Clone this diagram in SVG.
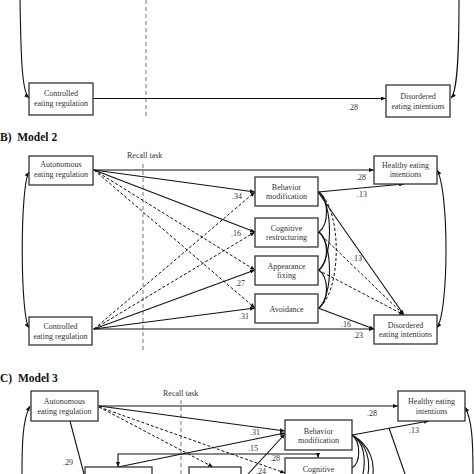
<svg xmlns="http://www.w3.org/2000/svg" width="474" height="474" viewBox="0 0 474 474">
<style>
.box{fill:#fff;stroke:#333;stroke-width:1.3}
.t{font-family:"Liberation Serif","Times New Roman",serif;font-size:8px;fill:#333;text-anchor:middle}
.lb{font-family:"Liberation Serif","Times New Roman",serif;font-size:8px;fill:#333}
.title{font-family:"Liberation Serif","Times New Roman",serif;font-size:11.5px;font-weight:bold;fill:#111}
.ln{fill:none;stroke:#111;stroke-width:1.1}
.ds{fill:none;stroke:#111;stroke-width:1;stroke-dasharray:3,2}
.rc{fill:none;stroke:#777;stroke-width:1;stroke-dasharray:4,3}
</style>
<defs>
<marker id="ah" markerUnits="userSpaceOnUse" markerWidth="5" markerHeight="4" refX="5" refY="2" orient="auto-start-reverse">
<path d="M0,0 L5,2 L0,4 z" fill="#111"/>
</marker>
</defs>
<rect width="474" height="474" fill="#fff"/>

<g id="connectors">
<!-- Model 1 -->
<line class="rc" x1="146" y1="0" x2="146" y2="118"/>
<path class="ln" d="M20,0 C21,60 22,92 29,98" marker-end="url(#ah)"/>
<path class="ln" d="M459,0 C459,60 457,92 451,98" marker-end="url(#ah)"/>
<line class="ln" x1="93" y1="98.5" x2="386" y2="98.5" marker-end="url(#ah)"/>

<!-- Model 2 -->
<line class="rc" x1="143" y1="164" x2="143" y2="350"/>
<line class="ln" x1="93" y1="170" x2="374" y2="170" marker-end="url(#ah)"/>
<line class="ln" x1="94" y1="170" x2="255" y2="192" marker-end="url(#ah)"/>
<line class="ln" x1="94" y1="170" x2="255" y2="232" marker-end="url(#ah)"/>
<line class="ds" x1="94" y1="170" x2="255" y2="270" marker-end="url(#ah)"/>
<line class="ds" x1="94" y1="170" x2="255" y2="308" marker-end="url(#ah)"/>
<line class="ds" x1="94" y1="329" x2="255" y2="192" marker-end="url(#ah)"/>
<line class="ds" x1="94" y1="329" x2="255" y2="232" marker-end="url(#ah)"/>
<line class="ln" x1="94" y1="329" x2="255" y2="270" marker-end="url(#ah)"/>
<line class="ln" x1="94" y1="329" x2="255" y2="308" marker-end="url(#ah)"/>
<line class="ln" x1="93" y1="329" x2="374" y2="329" marker-end="url(#ah)"/>
<line class="ln" x1="318" y1="192" x2="404" y2="184" marker-end="url(#ah)"/>
<line class="ln" x1="318" y1="192" x2="404" y2="315" marker-end="url(#ah)"/>
<line class="ds" x1="318" y1="232" x2="404" y2="315" marker-end="url(#ah)"/>
<line class="ds" x1="318" y1="270" x2="404" y2="315" marker-end="url(#ah)"/>
<line class="ln" x1="318" y1="308" x2="374" y2="329" marker-end="url(#ah)"/>
<path class="ln" d="M319,192 C329,200 329,224 319,232"/>
<path class="ln" d="M319,232 C329,240 329,262 319,270"/>
<path class="ln" d="M319,270 C329,278 329,300 319,308"/>
<path class="ln" d="M319,192 C333,205 333,257 319,270"/>
<path class="ln" d="M319,232 C333,245 333,295 319,308"/>
<path class="ds" d="M319,192 C342,210 342,290 319,308"/>
<path class="ln" d="M29,172 C20,185 20,315 29,328" marker-start="url(#ah)" marker-end="url(#ah)"/>
<path class="ln" d="M437,170 C449,190 449,310 437,328" marker-start="url(#ah)" marker-end="url(#ah)"/>

<!-- Model 3 -->
<line class="rc" x1="181" y1="400" x2="181" y2="474"/>
<line class="ln" x1="98" y1="406" x2="398" y2="406" marker-end="url(#ah)"/>
<line class="ln" x1="99" y1="406" x2="285" y2="431" marker-end="url(#ah)"/>
<line class="ds" x1="99" y1="407" x2="213" y2="467" marker-end="url(#ah)"/>
<line class="ds" x1="99" y1="407" x2="285" y2="473" marker-end="url(#ah)"/>
<line class="ln" x1="118" y1="467" x2="285" y2="433" marker-end="url(#ah)"/>
<line class="ln" x1="248" y1="474" x2="285" y2="434" marker-end="url(#ah)"/>
<path class="ln" d="M118,467 L118,454 L318,454 L318,458" marker-start="url(#ah)" marker-end="url(#ah)"/>
<line class="ln" x1="70" y1="421" x2="84" y2="474"/>
<line class="ln" x1="352" y1="435" x2="429" y2="421" marker-end="url(#ah)"/>
<line class="ln" x1="389" y1="428" x2="405" y2="474"/>
<path class="ln" d="M465,407 C472,420 473,440 473,474" marker-start="url(#ah)"/>
<path class="ln" d="M30,406 C22,420 22,450 22,474" marker-start="url(#ah)"/>
<path class="ln" d="M352,435 C361,442 361,462 352,468"/>
<path class="ln" d="M352,435 C364,442 366,458 363,474"/>
<path class="ln" d="M352,435 C368,444 370,462 368,474"/>
<path class="ln" d="M352,435 C372,446 374,464 373,474"/>
</g>

<g id="labels">
<text class="lb" x="348" y="110">.28</text>
<text class="lb" x="356" y="180">.28</text>
<text class="lb" x="357" y="197">.13</text>
<text class="lb" x="232" y="199">.34</text>
<text class="lb" x="231" y="236">.16</text>
<text class="lb" x="235" y="286">.27</text>
<text class="lb" x="239" y="319">.31</text>
<text class="lb" x="352" y="261">.13</text>
<text class="lb" x="341" y="327">.16</text>
<text class="lb" x="353" y="338">.23</text>
<text class="lb" x="367" y="416">.28</text>
<text class="lb" x="409" y="433">.13</text>
<text class="lb" x="250" y="435">.31</text>
<text class="lb" x="248" y="451">.15</text>
<text class="lb" x="270" y="461">.28</text>
<text class="lb" x="63" y="465">.29</text>
<text class="lb" x="256" y="473.5">.24</text>
<text class="lb" x="127" y="158">Recall task</text>
<text class="lb" x="163" y="396">Recall task</text>
<text class="title" x="0" y="141">B)&#160; Model 2</text>
<text class="title" x="0" y="382">C)&#160; Model 3</text>
</g>

<g id="m1-controlled"><rect class="box" x="29" y="83" width="64" height="32"/><text class="t" x="61" y="96">Controlled</text><text class="t" x="61" y="106">eating regulation</text></g>
<g id="m1-disordered"><rect class="box" x="386" y="85" width="64" height="32"/><text class="t" x="418" y="99">Disordered</text><text class="t" x="418" y="109">eating intentions</text></g>

<g id="m2-autonomous"><rect class="box" x="29" y="156" width="64" height="29"/><text class="t" x="61" y="167">Autonomous</text><text class="t" x="61" y="177">eating regulation</text></g>
<g id="m2-controlled"><rect class="box" x="29" y="317" width="63" height="28"/><text class="t" x="60.5" y="329">Controlled</text><text class="t" x="60.5" y="339">eating regulation</text></g>
<g id="m2-healthy"><rect class="box" x="374" y="156" width="63" height="28"/><text class="t" x="405.5" y="168">Healthy eating</text><text class="t" x="405.5" y="177">intentions</text></g>
<g id="m2-behavior"><rect class="box" x="255" y="177" width="63" height="29"/><text class="t" x="286.5" y="190">Behavior</text><text class="t" x="286.5" y="199">modification</text></g>
<g id="m2-cognitive"><rect class="box" x="255" y="218" width="63" height="29"/><text class="t" x="286.5" y="231">Cognitive</text><text class="t" x="286.5" y="240">restructuring</text></g>
<g id="m2-appearance"><rect class="box" x="255" y="256" width="63" height="29"/><text class="t" x="286.5" y="268.5">Appearance</text><text class="t" x="286.5" y="277.5">fixing</text></g>
<g id="m2-avoidance"><rect class="box" x="255" y="294" width="63" height="29"/><text class="t" x="286.5" y="311.5">Avoidance</text></g>
<g id="m2-disordered"><rect class="box" x="374" y="315" width="63" height="29"/><text class="t" x="405.5" y="328">Disordered</text><text class="t" x="405.5" y="337">eating intentions</text></g>

<g id="m3-autonomous"><rect class="box" x="31" y="391" width="67" height="30"/><text class="t" x="64.5" y="404">Autonomous</text><text class="t" x="64.5" y="413.5">eating regulation</text></g>
<g id="m3-healthy"><rect class="box" x="398" y="391" width="67" height="30"/><text class="t" x="431.5" y="404">Healthy eating</text><text class="t" x="431.5" y="413.5">intentions</text></g>
<g id="m3-behavior"><rect class="box" x="285" y="420" width="67" height="30"/><text class="t" x="318.5" y="434">Behavior</text><text class="t" x="318.5" y="443">modification</text></g>
<g id="m3-cognitive"><rect class="box" x="285" y="458" width="67" height="30"/><text class="t" x="318.5" y="471.5">Cognitive</text></g>
<g id="m3-box1"><rect class="box" x="85" y="467" width="67" height="30"/></g>
<g id="m3-box2"><rect class="box" x="189" y="467" width="52" height="30"/></g>
</svg>
